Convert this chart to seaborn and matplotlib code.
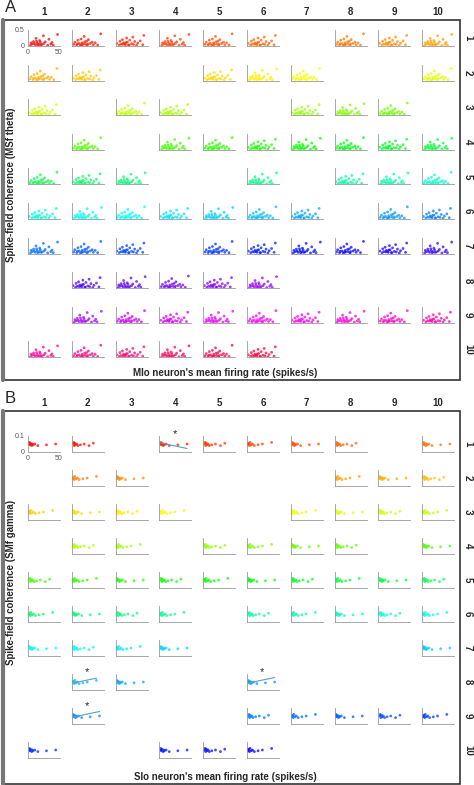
import matplotlib
matplotlib.use("Agg")
import matplotlib.pyplot as plt
import seaborn as sns
import numpy as np
import pandas as pd
from matplotlib.patches import Rectangle

sns.set_style("white")
plt.rcParams['font.family'] = ['Liberation Sans', 'DejaVu Sans']

W, H = 474, 785
col_labels = ["1", "2", "3", "4", "5", "6", "7", "8", "9", "10"]
row_labels = ["1", "2", "3", "4", "5", "6", "7", "8", "9", "10"]

# present cells (row -> columns)
cells_A = {1: [1, 2, 3, 4, 5, 6, 8, 9, 10], 2: [1, 2, 5, 6, 7, 10], 3: [1, 3, 4, 7, 8, 9],
           4: [2, 4, 5, 6, 7, 8, 9, 10], 5: [1, 2, 3, 6, 8, 9, 10], 6: [1, 2, 3, 4, 5, 6, 7, 9, 10],
           7: [1, 2, 3, 5, 6, 7, 8, 9, 10], 8: [2, 3, 4, 5, 6], 9: [2, 3, 4, 5, 6, 7, 8, 9, 10],
           10: [1, 2, 3, 4, 5, 6]}
cells_B = {1: [1, 2, 4, 5, 6, 7, 8, 10], 2: [2, 3, 8, 9, 10], 3: [1, 2, 3, 4, 7, 8, 9, 10],
           4: [2, 3, 5, 6, 7, 8, 10], 5: [1, 2, 3, 4, 5, 6, 7, 8, 9, 10],
           6: [1, 2, 3, 4, 6, 7, 8, 9, 10], 7: [1, 2, 3, 4, 10], 8: [2, 3, 6],
           9: [2, 6, 7, 8, 9, 10], 10: [1, 4, 5, 6]}
sig_B = [(1, 4), (8, 2), (8, 6), (9, 2)]

# point templates (firing rate, coherence)
A_x = [[3, 5, 8, 10, 12, 14, 15, 17, 18, 20, 22, 24, 25, 27, 30, 33, 35, 38, 42, 47, 9, 16, 21, 26],
       [2, 6, 7, 9, 11, 13, 16, 18, 19, 21, 23, 26, 28, 29, 31, 34, 36, 40, 44, 46, 12, 17, 22, 15],
       [4, 5, 7, 9, 12, 13, 15, 16, 19, 20, 23, 25, 26, 28, 32, 34, 37, 39, 41, 48, 10, 18, 21, 14]]
A_y = [[0.05, 0.12, 0.03, 0.18, 0.08, 0.02, 0.22, 0.10, 0.05, 0.30, 0.06, 0.15, 0.02, 0.20, 0.08, 0.12, 0.04, 0.10, 0.03, 0.38, 0.07, 0.04, 0.13, 0.06],
       [0.08, 0.03, 0.15, 0.06, 0.20, 0.10, 0.04, 0.25, 0.12, 0.03, 0.18, 0.07, 0.28, 0.05, 0.14, 0.02, 0.09, 0.16, 0.04, 0.33, 0.05, 0.11, 0.03, 0.07],
       [0.02, 0.10, 0.06, 0.14, 0.04, 0.24, 0.09, 0.03, 0.17, 0.12, 0.05, 0.32, 0.08, 0.13, 0.02, 0.21, 0.06, 0.11, 0.03, 0.36, 0.08, 0.05, 0.04, 0.15]]
B_x = [[2, 3, 4, 5, 6, 8, 10, 14, 20, 28, 35],
       [1, 2, 3, 4, 5, 7, 9, 12, 18, 25, 40],
       [2, 3, 3, 4, 6, 7, 8, 11, 16, 30, 45]]
B_y = [[0.05, 0.06, 0.04, 0.055, 0.045, 0.05, 0.04, 0.045, 0.05, 0.04, 0.055],
       [0.045, 0.055, 0.05, 0.04, 0.06, 0.045, 0.05, 0.04, 0.045, 0.05, 0.06],
       [0.06, 0.05, 0.045, 0.055, 0.04, 0.05, 0.045, 0.05, 0.04, 0.045, 0.05]]

fig = plt.figure(figsize=(W / 100, H / 100), dpi=100)

def fr(x0, y0, w, h):
    return [x0 / W, 1 - (y0 + h) / H, w / W, h / H]

col_x = [28 + 43.8 * i for i in range(10)]

def panel(cells, top_row_y, row_dy, ylim, yt, xs, ys, cmax, label, ytitle, xtitle, frame_top, frame_bot, sig=()):
    bg = fig.add_axes([0, 0, 1, 1], zorder=-1)
    bg.set_axis_off()
    bg.set_xlim(0, W); bg.set_ylim(H, 0)
    bg.add_patch(Rectangle((3, frame_top), 457, frame_bot - frame_top, fill=False, ec="#333333", lw=1.2))
    bg.plot([3, 3], [frame_top, frame_bot], color="#777777", lw=3)
    bg.text(5, frame_top - 20, label, fontsize=12, ha="left", va="top")
    for i, c in enumerate(col_labels):
        bg.text(col_x[i] + 16, frame_top - 3, c, fontsize=7, fontweight="bold", ha="center", va="bottom")
    for j, r in enumerate(row_labels):
        bg.text(468, top_row_y + row_dy * j - 8, r, fontsize=7, fontweight="bold", rotation=-90, ha="center", va="center")
    bg.text(11, (frame_top + frame_bot) / 2 - 15, ytitle, fontsize=7, fontweight="bold", rotation=90, ha="center", va="center")
    bg.text(225, frame_bot - 7, xtitle, fontsize=7, fontweight="bold", ha="center", va="center")
    order = [(r, c) for r in range(1, 11) for c in cells[r]]
    n = len(order)
    cmap = plt.get_cmap("hsv")
    for k, (r, c) in enumerate(order):
        color = cmap(cmax * k / (n - 1))
        y_bot = top_row_y + row_dy * (r - 1)
        ax = fig.add_axes(fr(col_x[c - 1], y_bot - 16, 32, 16))
        t = (r + c) % 3
        df = pd.DataFrame({"x": xs[t], "y": ys[t]})
        sns.scatterplot(data=df, x="x", y="y", ax=ax, color=color, s=4, alpha=0.75, edgecolor="none", legend=False)
        if (r, c) in sig:
            slope = -1 if (r, c) == (1, 4) else 1
            ly = [ylim[1] * (0.5 + slope * 0.008 * (v - 10)) for v in xs[t]]
            df2 = pd.DataFrame({"x": xs[t], "y": ly})
            sns.regplot(data=df2, x="x", y="y", ax=ax, scatter=False, ci=None, color="#5a9ec0", line_kws={"lw": 0.8})
            ax.text(25, ylim[1] * 1.1, "*", fontsize=8, ha="center", va="center")
        ax.set_xlim(0, 52); ax.set_ylim(0, ylim[1])
        ax.set_xlabel(""); ax.set_ylabel("")
        for s in ["top", "right"]:
            ax.spines[s].set_visible(False)
        for s in ["left", "bottom"]:
            ax.spines[s].set_color("#999999"); ax.spines[s].set_linewidth(0.6)
        ax.patch.set_alpha(0)
        if (r, c) == (1, 1):
            ax.set_xticks([0, 50]); ax.set_yticks([0, ylim[1]])
            ax.set_yticklabels(["0", yt])
            ax.tick_params(labelsize=5, length=1.5, pad=1, colors="#555555")
        else:
            ax.set_xticks([]); ax.set_yticks([])

panel(cells_A, 46, 34.6, (0, 0.5), "0.5", A_x, A_y, 0.98, "A",
      "Spike-field coherence (MSf theta)", "MIo neuron's mean firing rate (spikes/s)", 20, 380)
panel(cells_B, 452, 34.0, (0, 0.1), "0.1", B_x, B_y, 0.68, "B",
      "Spike-field coherence (SMf gamma)", "SIo neuron's mean firing rate (spikes/s)", 411, 784, sig_B)

fig.savefig("out.png", dpi=100)
